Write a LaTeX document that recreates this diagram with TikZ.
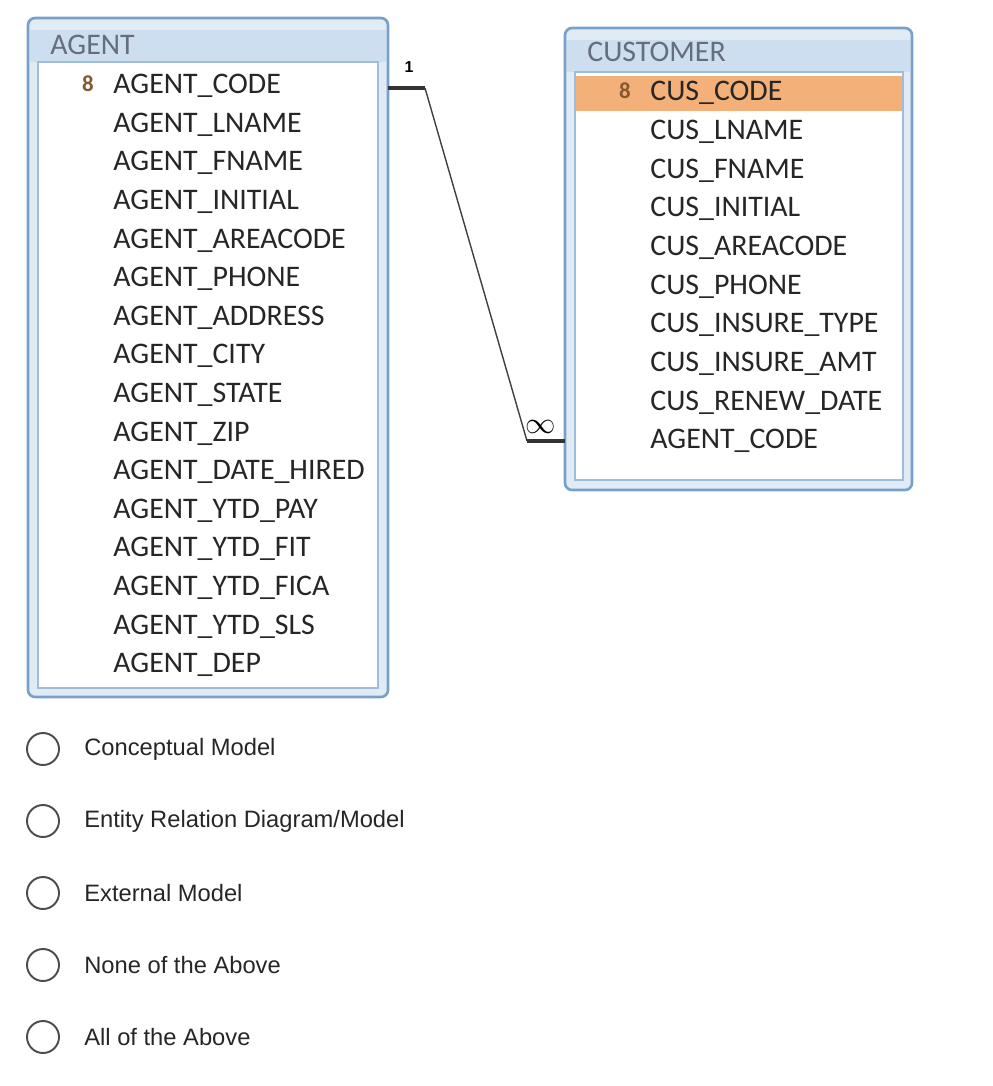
\documentclass[tikz,border=0pt]{standalone}
\usepackage{fontspec}
\setmainfont{Liberation Sans}
\newfontfamily\tblfont{Carlito}
\usetikzlibrary{positioning}
\definecolor{frameblue}{RGB}{120,160,200}
\definecolor{headblue}{RGB}{205,222,240}
\definecolor{keyrow}{RGB}{243,176,120}
\definecolor{titlegray}{RGB}{100,110,125}
\tikzset{
  field/.style={anchor=west, inner sep=0pt, font=\tblfont\fontsize{17}{17}\selectfont, text=black!85},
  title/.style={anchor=west, inner sep=0pt, font=\tblfont\fontsize{17}{17}\selectfont, text=titlegray},
  keyicon/.style={anchor=center, inner sep=0pt, font=\tblfont\fontsize{13}{13}\selectfont, text=brown!70!black},
  radio/.style={circle, draw=black!70, line width=1.1pt, minimum size=0.64cm, inner sep=0pt},
  answer/.style={anchor=west, inner sep=0pt, font=\fontsize{13.5}{13.5}\selectfont, text=black!85},
  crow/.style={line width=2.5pt, black!80}
}
\begin{document}
\begin{tikzpicture}[x=0.02cm, y=-0.02cm]
\useasboundingbox (0,0) rectangle (992,1086);

% AGENT table
\draw[frameblue, line width=1.5pt, fill=headblue!60, rounded corners=4pt] (28,18) rectangle (388,697);
\fill[headblue] (30,30) rectangle (386,62);
\draw[frameblue!70, fill=white, line width=1pt] (38,62) rectangle (378,688);
\node[title] (agent) at (50,45) {AGENT};
\node[keyicon] (agentkey) at (88,84) {\textbf{8}};
\foreach \name [count=\i from 0] in {AGENT\_CODE, AGENT\_LNAME, AGENT\_FNAME, AGENT\_INITIAL,
    AGENT\_AREACODE, AGENT\_PHONE, AGENT\_ADDRESS, AGENT\_CITY, AGENT\_STATE, AGENT\_ZIP,
    AGENT\_DATE\_HIRED, AGENT\_YTD\_PAY, AGENT\_YTD\_FIT, AGENT\_YTD\_FICA, AGENT\_YTD\_SLS, AGENT\_DEP}
  \node[field] (a\i) at (113,86+38.6*\i) {\name};

% CUSTOMER table
\draw[frameblue, line width=1.5pt, fill=headblue!60, rounded corners=4pt] (565,28) rectangle (912,490);
\fill[headblue] (567,40) rectangle (910,72);
\draw[frameblue!70, fill=white, line width=1pt] (575,72) rectangle (903,480);
\fill[keyrow] (576,76) rectangle (902,111);
\node[title] (customer) at (587,52) {CUSTOMER};
\node[keyicon] (cuskey) at (625,91) {\textbf{8}};
\foreach \name [count=\i from 0] in {CUS\_CODE, CUS\_LNAME, CUS\_FNAME, CUS\_INITIAL, CUS\_AREACODE,
    CUS\_PHONE, CUS\_INSURE\_TYPE, CUS\_INSURE\_AMT, CUS\_RENEW\_DATE, AGENT\_CODE}
  \node[field] (c\i) at (650,93+38.7*\i) {\name};

% relationship line
\coordinate (one) at (388,88);
\coordinate (onebend) at (425,88);
\coordinate (manybend) at (527,441);
\coordinate (many) at (565,441);
\draw[crow] (one) -- (onebend);
\draw[black!75, line width=0.8pt] (onebend) -- (manybend);
\draw[crow] (manybend) -- (many);
\node[font=\bfseries\fontsize{9}{9}\selectfont, inner sep=0pt] (onelbl) at (409,67) {1};
\node[font=\fontsize{16}{16}\selectfont, inner sep=0pt] (manylbl) at (541,427) {$\infty$};

% answer options
\foreach \txt [count=\i from 0] in {Conceptual Model, Entity Relation Diagram/Model, External Model,
    None of the Above, All of the Above} {
  \node[radio] (r\i) at (43,749+72*\i) {};
  \node[answer] (t\i) at (84,749+72*\i) {\txt};
}
\end{tikzpicture}
\end{document}
